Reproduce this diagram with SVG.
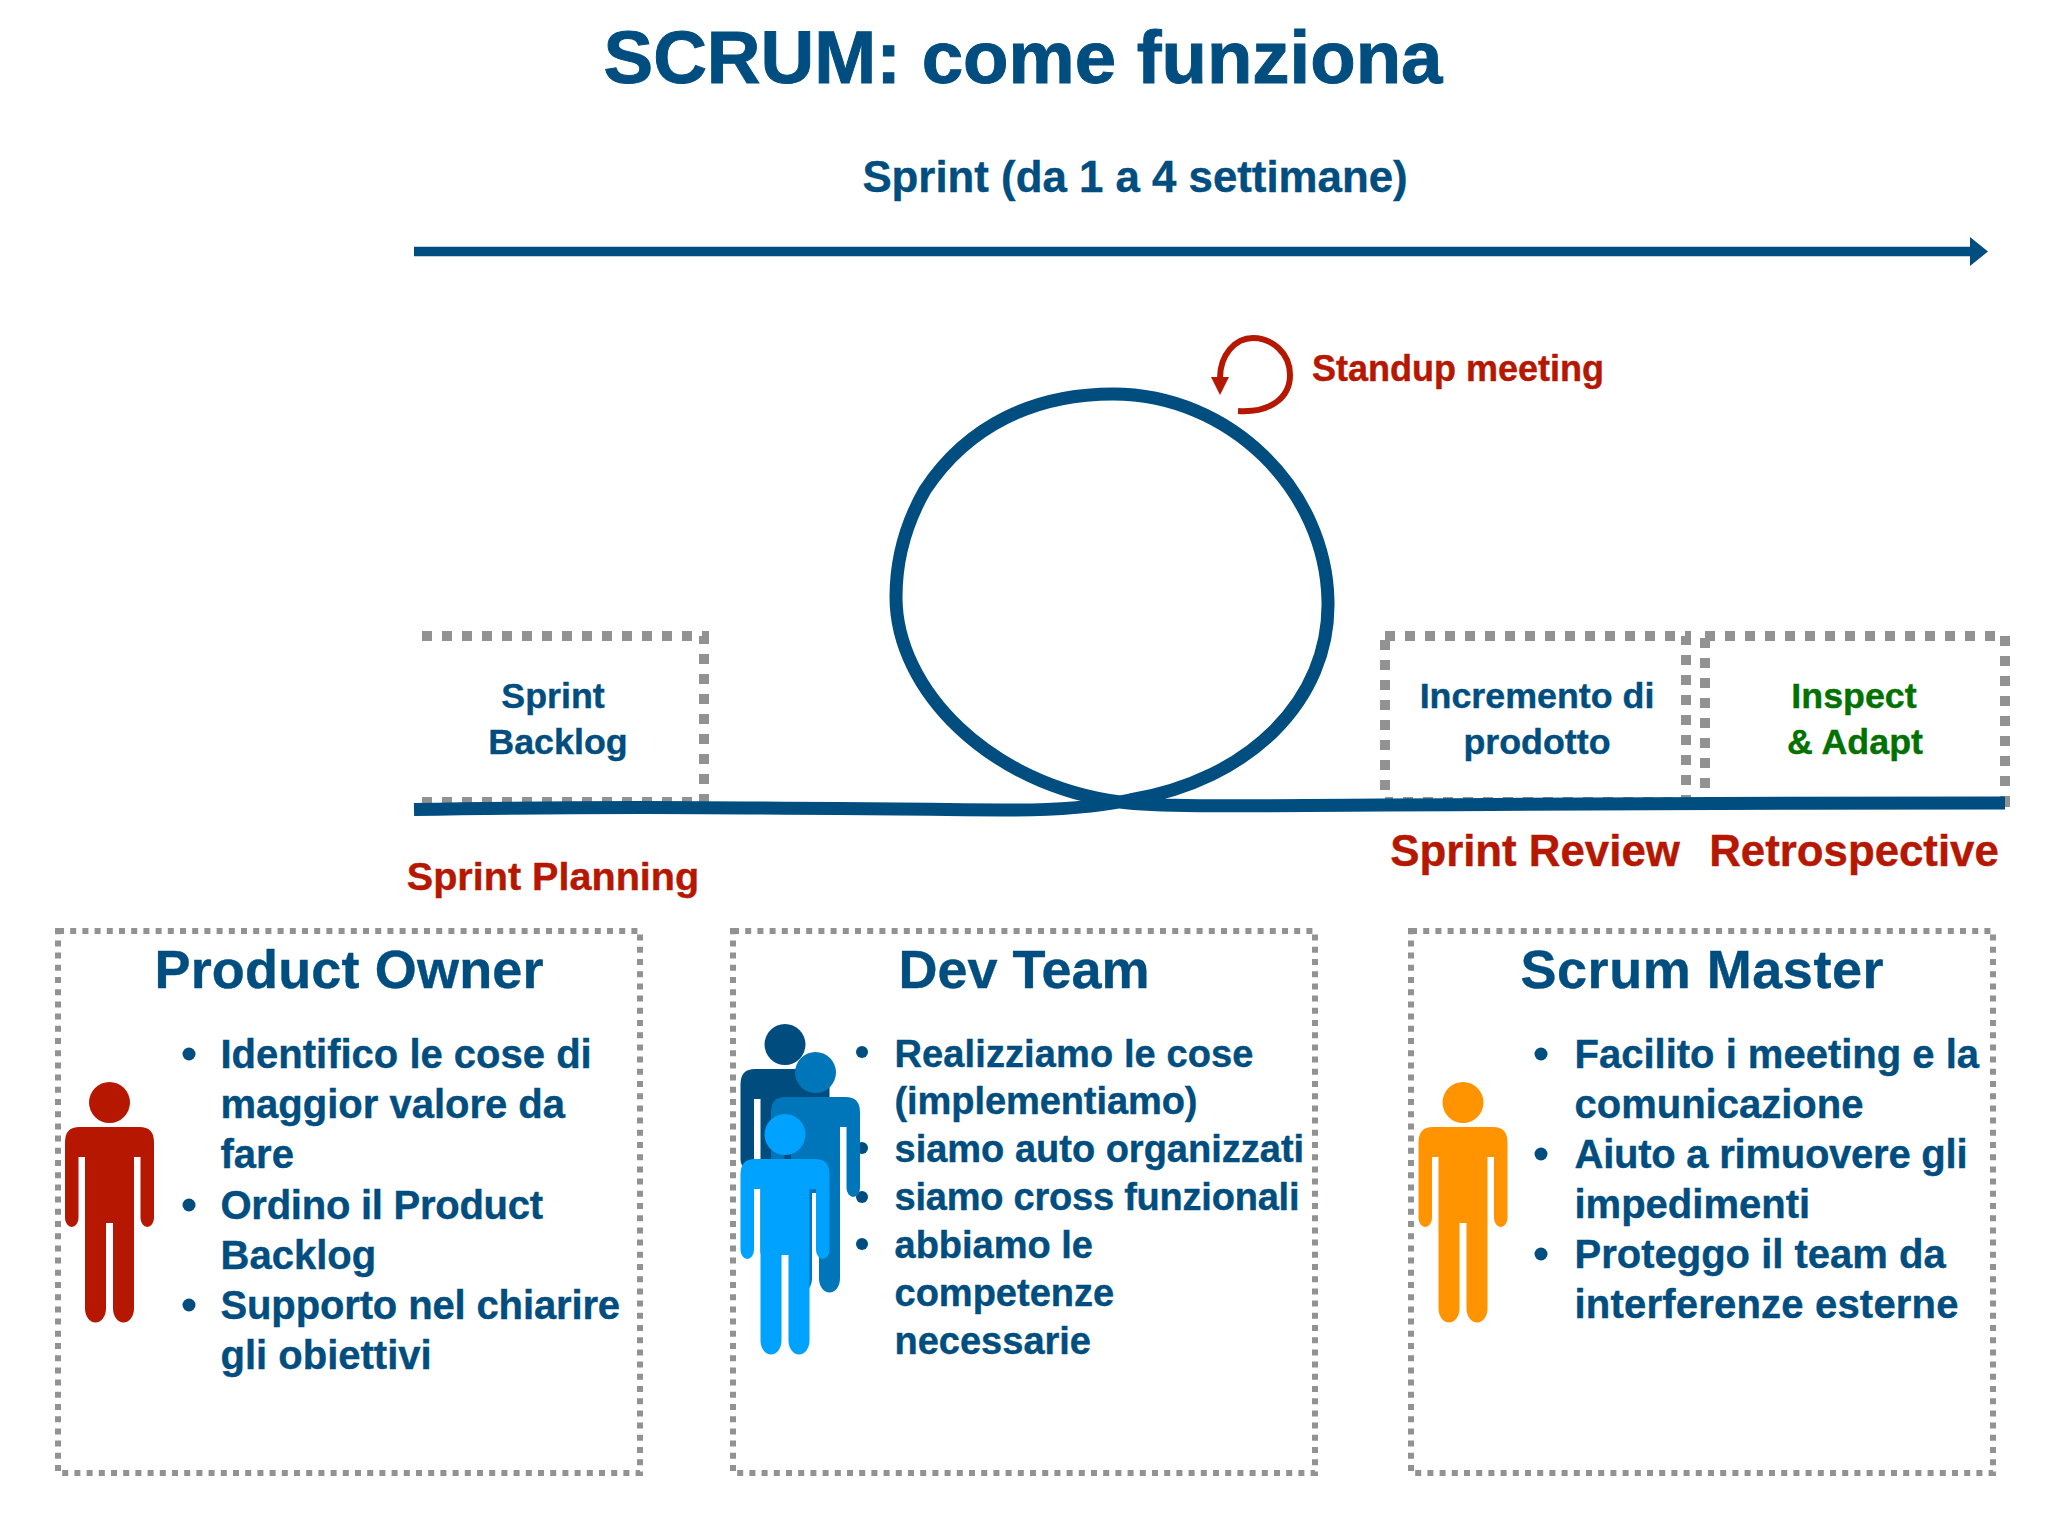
<svg xmlns="http://www.w3.org/2000/svg" xmlns:xlink="http://www.w3.org/1999/xlink" width="2048" height="1536" viewBox="0 0 2048 1536">
<style>
text{font-family:"Liberation Sans",Arial,sans-serif;font-weight:700;fill:#004d80;stroke:#004d80;stroke-width:.4}
.red{fill:#b51700;stroke:#b51700}.green{fill:#017100;stroke:#017100}
.m{text-anchor:middle}
.dash-l{fill:none;stroke:#929292;stroke-width:10;stroke-dasharray:10 10}
.dash-s{fill:none;stroke:#929292;stroke-width:6;stroke-dasharray:6 6.2}
.b{fill:#004d80}
.box{font-size:35.8px}.lab{font-size:39.6px}.lab2{font-size:43.8px}.h{font-size:54px}.t{font-size:40px}.t2{font-size:38px}
</style>
<defs>
<g id="person">
<ellipse cx="0" cy="20.5" rx="20.5" ry="20.5"/>
<path d="M-30,45H30Q44.5,45 44.5,60V136A6.75,9 0 0 1 31,136V75H24.5V226.5A10.5,14 0 0 1 3.5,226.5V141H-3.5V226.5A10.5,14 0 0 1 -24.5,226.5V75H-31V136A6.75,9 0 0 1 -44.5,136V60Q-44.5,45 -30,45Z"/>
</g>
</defs>
<rect width="2048" height="1536" fill="#fff"/>
<text id="title" x="1023" y="83" class="m" font-size="74.4" style="stroke-width:1">SCRUM: come funziona</text>
<text id="sprint-label" x="1135" y="192" class="m" font-size="43.8">Sprint (da 1 a 4 settimane)</text>

<g id="sprint-backlog">
<path class="dash-l" d="M422,636H704V802H421"/>
<text x="553" y="708" class="m box">Sprint</text>
<text x="558" y="754" class="m box">Backlog</text>
</g>
<g id="incremento">
<path class="dash-l" d="M1385,636H1686V802H1385Z"/>
<text x="1537" y="708" class="m box">Incremento di</text>
<text x="1537" y="754" class="m box">prodotto</text>
</g>
<g id="inspect">
<path class="dash-l" d="M1705,636H2005V802H1705Z"/>
<text x="1854" y="708" class="m box green">Inspect</text>
<text x="1855" y="754" class="m box green">&amp; Adapt</text>
</g>

<g id="connectors">
<path d="M414,251.5H1972" fill="none" stroke="#004d80" stroke-width="9.5"/>
<path d="M1970,237L1988,251.5L1970,266Z" fill="#004d80"/>
<path d="M414,809.5C600,806 800,808 1000,810C1060,811 1100,806 1130,800C1250,780 1330,700 1328,601C1326,490 1230,394 1113,394C1035,394 968,425 925,490C905,525 896,560 896,597C896,690 990,785 1120,802C1180,810 1300,803 2005,803" fill="none" stroke="#004d80" stroke-width="13"/>
<path d="M1238,411C1270,413 1290,398 1290,375C1290,353 1272,338 1253,338C1235,338 1220,355 1220,378" fill="none" stroke="#b51700" stroke-width="6"/>
<path d="M1211,377H1229L1220,395Z" fill="#b51700"/>
</g>

<text id="standup" x="1312" y="380.5" font-size="36" class="red">Standup meeting</text>
<text id="sprint-planning" x="553" y="890" class="m lab red">Sprint Planning</text>
<text id="sprint-review" x="1535" y="866" class="m lab2 red">Sprint Review</text>
<text id="retrospective" x="1854" y="866" class="m lab2 red">Retrospective</text>

<g id="product-owner">
<rect class="dash-s" x="58" y="931" width="582" height="542"/>
<text x="349" y="988" class="m h" textLength="389">Product Owner</text>
<use xlink:href="#person" href="#person" x="109.5" y="1082" fill="#b51700"/>
<circle class="b" cx="189" cy="1054" r="6.5"/><circle class="b" cx="189" cy="1205" r="6.5"/><circle class="b" cx="189" cy="1305" r="6.5"/>
<g class="t">
<text x="220.5" y="1068">Identifico le cose di</text>
<text x="220.5" y="1118">maggior valore da</text>
<text x="220.5" y="1168">fare</text>
<text x="220.5" y="1218.5" textLength="322.6">Ordino il Product</text>
<text x="220.5" y="1269">Backlog</text>
<text x="220.5" y="1318.5" textLength="399.6">Supporto nel chiarire</text>
<text x="220.5" y="1369">gli obiettivi</text>
</g>
</g>

<g id="dev-team">
<rect class="dash-s" x="733" y="931" width="582" height="542"/>
<text x="1024" y="988" class="m h">Dev Team</text>
<circle class="b" cx="862" cy="1052" r="6"/><circle class="b" cx="862" cy="1148" r="6"/><circle class="b" cx="862" cy="1197" r="6"/><circle class="b" cx="862" cy="1244" r="6"/>
<g class="t2">
<text x="894.5" y="1067" textLength="359">Realizziamo le cose</text>
<text x="894.5" y="1114" textLength="303">(implementiamo)</text>
<text x="894.5" y="1162">siamo auto organizzati</text>
<text x="894.5" y="1210" textLength="405">siamo cross funzionali</text>
<text x="894.5" y="1258">abbiamo le</text>
<text x="894.5" y="1306">competenze</text>
<text x="894.5" y="1354">necessarie</text>
</g>
<use xlink:href="#person" href="#person" x="785" y="1024" fill="#004c7f"/>
<use xlink:href="#person" href="#person" x="815.5" y="1052" fill="#0076ba"/>
<use xlink:href="#person" href="#person" x="785" y="1114" fill="#00a2ff"/>
</g>

<g id="scrum-master">
<rect class="dash-s" x="1411" y="931" width="582" height="542"/>
<text x="1702" y="988" class="m h" textLength="363">Scrum Master</text>
<use xlink:href="#person" href="#person" x="1463" y="1082" fill="#ff9300"/>
<circle class="b" cx="1541" cy="1054" r="6.5"/><circle class="b" cx="1541" cy="1154" r="6.5"/><circle class="b" cx="1541" cy="1254" r="6.5"/>
<g class="t">
<text x="1574.5" y="1068">Facilito i meeting e la</text>
<text x="1574.5" y="1118">comunicazione</text>
<text x="1574.5" y="1168" textLength="393">Aiuto a rimuovere gli</text>
<text x="1574.5" y="1218">impedimenti</text>
<text x="1574.5" y="1268">Proteggo il team da</text>
<text x="1574.5" y="1318" textLength="384">interferenze esterne</text>
</g>
</g>
</svg>
